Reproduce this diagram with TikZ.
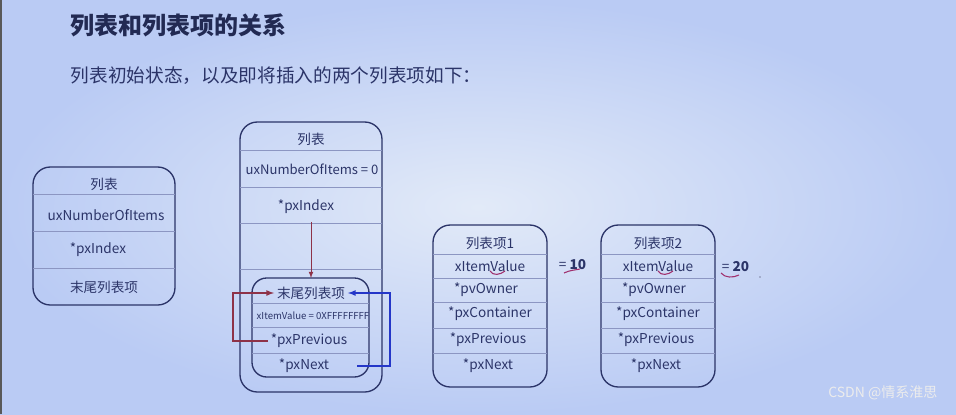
\documentclass[tikz,border=0pt]{standalone}
\usepackage{fontspec}
\setmainfont{Noto Sans CJK SC}
\definecolor{bgedge}{HTML}{BACBF4}
\definecolor{bgmid}{HTML}{E2EAF8}
\definecolor{navy}{HTML}{2B3468}
\definecolor{rule}{HTML}{8C96C2}
\definecolor{maroon}{HTML}{8E3248}
\definecolor{loopblue}{HTML}{2436C8}
\definecolor{pen}{HTML}{A0306E}
\tikzset{
    box/.style={draw=navy, line width=1pt, rounded corners=13pt},
    divider/.style={draw=rule, line width=0.6pt},
    field/.style={text=navy, font=\fontsize{10.2}{12}\selectfont, inner sep=2pt},
    small/.style={text=navy, font=\fontsize{7.2}{8}\selectfont, inner sep=1pt},
}
\begin{document}
\begin{tikzpicture}[x=0.75pt,y=-0.75pt]
    % background
    \shade[inner color=bgmid, outer color=bgedge] (0,0) rectangle (956,414);
    \useasboundingbox (0,0) rectangle (956,414);
    \fill[gray!70!black] (0,0) rectangle (2,414);
    \node[anchor=west, text=navy!80!black, font=\fontsize{18}{20}\selectfont\bfseries] (title) at (66,25) {列表和列表项的关系};
    \node[anchor=west, text=navy, font=\fontsize{14}{16}\selectfont] (intro) at (66,76) {列表初始状态，以及即将插入的两个列表项如下：};

    % empty list structure
    \draw[box] (33,167) rectangle (175,305);
    \foreach \y in {194,231,268} \draw[divider] (33,\y) -- (175,\y);
    \node[field] (l0) at (104,184) {列表};
    \node[field] (l1) at (106,215) {uxNumberOfItems};
    \node[field] (l2) at (98,250) {*pxIndex};
    \node[field] (l3) at (104,287) {末尾列表项};

    % list after init
    \draw[box] (240,122) rectangle (382,392);
    \foreach \y in {150,187,223,269} \draw[divider] (240,\y) -- (382,\y);
    \node[field] (m0) at (311,139) {列表};
    \node[field, font=\fontsize{9.8}{12}\selectfont] (m1) at (312,169) {uxNumberOfItems = 0};
    \node[field] (m2) at (306,207) {*pxIndex};
    \draw[box, rounded corners=11pt] (252,278) rectangle (369,377);
    \foreach \y in {303,327,353} \draw[divider] (252,\y) -- (369,\y);
    \coordinate (tailtop) at (311,278);
    \node[field] (t0) at (311,293) {末尾列表项};
    \node[small] (t1) at (313,316) {xItemValue = 0XFFFFFFFF};
    \node[field] (t2) at (309,341) {*pxPrevious};
    \node[field] (t3) at (304,366) {*pxNext};
    \draw[maroon, line width=0.6pt, -latex] (tailtop |- m2.south) ++(0,5) -- (tailtop);
    \coordinate (prevx) at (233,0);
    \coordinate (nextx) at (390,0);
    \coordinate (nextstart) at (357,366);
    \draw[maroon, line width=1pt, -latex] (t2.west) -- (t2.west -| prevx) |- (t0.west);
    \draw[loopblue, line width=1pt, -latex] (nextstart) -- (nextstart -| nextx) |- (t0.east);

    % list item 1
    \draw[box] (433,225) rectangle (547,387);
    \foreach \y in {254,278,302,328,353} \draw[divider] (433,\y) -- (547,\y);
    \node[field] (a0) at (490,243) {列表项1};
    \node[field] (a1) at (490,266) {xItemValue};
    \node[field] (a2) at (486,290) {*pvOwner};
    \node[field] (a3) at (490,314) {*pxContainer};
    \node[field] (a4) at (488,340) {*pxPrevious};
    \node[field] (a5) at (488,366) {*pxNext};
    \node[field, anchor=west] (a6) at (556,265) {= \textbf{10}};
    \draw[pen, line width=0.8pt] (490,271) .. controls (493,276) and (500,275) .. (505,271);
    \draw[pen, line width=0.8pt] (564,273) .. controls (570,270) and (576,270) .. (580,269);

    % list item 2
    \draw[box] (601,225) rectangle (715,387);
    \foreach \y in {254,278,302,328,353} \draw[divider] (601,\y) -- (715,\y);
    \node[field] (b0) at (658,243) {列表项2};
    \node[field] (b1) at (658,266) {xItemValue};
    \node[field] (b2) at (654,290) {*pvOwner};
    \node[field] (b3) at (658,314) {*pxContainer};
    \node[field] (b4) at (656,340) {*pxPrevious};
    \node[field] (b5) at (656,366) {*pxNext};
    \node[field, anchor=west] (b6) at (719,267) {= \textbf{20}};
    \draw[pen, line width=0.8pt] (658,271) .. controls (661,276) and (668,275) .. (673,271);
    \draw[pen, line width=0.8pt] (721,273) .. controls (725,278) and (733,278) .. (739,275);
    \fill[navy!60] (760,277) circle (0.9);

    % watermark
    \node[anchor=east, text=white!85!gray, font=\fontsize{10.5}{12}\selectfont] (mark) at (942,393) {CSDN @情系淮思};
\end{tikzpicture}
\end{document}
